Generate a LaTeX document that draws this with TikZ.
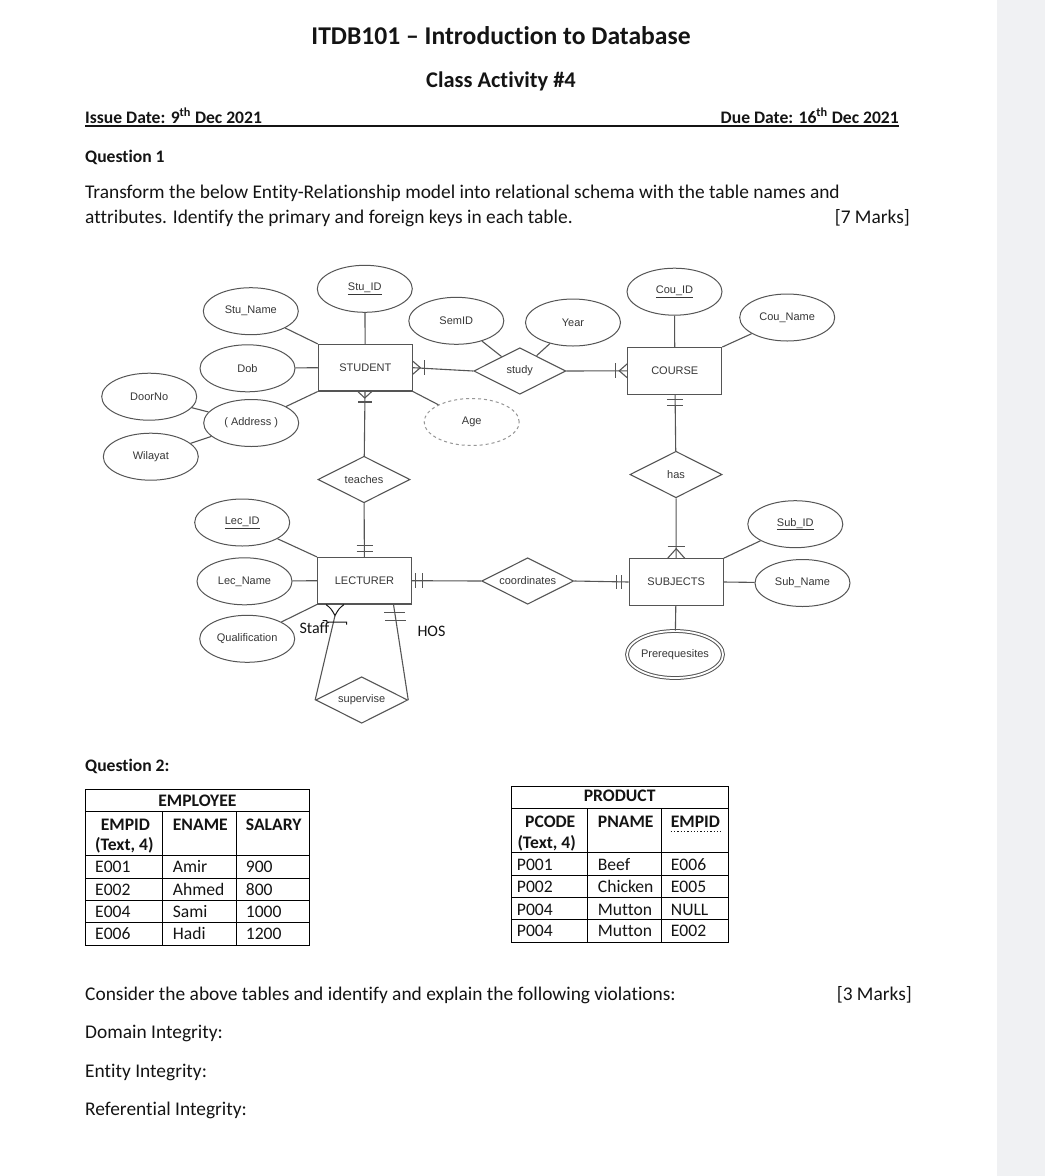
\documentclass[tikz,border=0pt]{standalone}
\usepackage{fontspec}
\setmainfont{Carlito}[Ligatures={TeX,NoCommon}]
\newfontfamily\diagfont{Liberation Sans}
\usetikzlibrary{shapes.geometric, calc, positioning}

\definecolor{erline}{RGB}{85, 85, 85}
\definecolor{ertext}{RGB}{55, 55, 55}
\definecolor{agegray}{RGB}{150, 150, 150}
\definecolor{sidegray}{RGB}{240, 241, 243}
\definecolor{ink}{RGB}{20, 20, 20}

\newcommand{\erfont}{\diagfont\fontsize{11}{13}\selectfont}
\newcommand{\bodyfont}{\fontsize{17.6}{21}\selectfont}
\newcommand{\parafont}{\fontsize{19.4}{23}\selectfont}

\tikzset{
    entity/.style={
        rectangle, draw=erline, line width=1.1pt,
        minimum width=94, minimum height=46.5, inner sep=0pt,
        font=\erfont, text=ertext
    },
    attr/.style={
        ellipse, draw=erline, line width=1pt,
        minimum width=95, minimum height=47, inner sep=0pt,
        font=\erfont, text=ertext
    },
    rel/.style={
        diamond, aspect=2, draw=erline, line width=1.1pt,
        minimum width=92, minimum height=46.5, inner sep=0pt,
        font=\erfont, text=ertext
    },
    conn/.style={draw=erline, line width=1.1pt},
    staffmark/.style={draw=ink, line width=1pt},
    txt/.style={anchor=base west, inner sep=0pt, font=\bodyfont, text=ink},
    boldtxt/.style={txt, font=\bodyfont\bfseries},
    paratxt/.style={txt, font=\parafont},
    tbl/.style={draw=black, line width=0.9pt}
}

\begin{document}
\begin{tikzpicture}[x=1pt, y=-1pt]
    \fill[white] (0,0) rectangle (1045,1176);
    \fill[sidegray] (997,0) rectangle (1045,1176);
    \useasboundingbox (0,0) rectangle (1045,1176);

    % heading
    \node[inner sep=0pt, anchor=base, text=ink, font=\fontsize{25.6}{30}\selectfont\bfseries] (title) at (501,44) {ITDB101 – Introduction to Database};
    \node[inner sep=0pt, anchor=base, text=ink, font=\fontsize{22.4}{26}\selectfont\bfseries] (activity) at (501,87) {Class Activity \#4};
    \node[boldtxt] (issue) at (85,123) {Issue Date: 9\textsuperscript{th} Dec 2021};
    \node[boldtxt, anchor=base east] (due) at (899,123) {Due Date: 16\textsuperscript{th} Dec 2021};
    \draw[ink, line width=2.2pt] ($(issue.base west)+(0,3)$) -- ($(due.base east)+(0,3)$);

    \node[boldtxt] (q1) at (85,162) {Question 1};
    \node[paratxt] (task1) at (85,198) {Transform the below Entity-Relationship model into relational schema with the table names and};
    \node[paratxt] (task2) at (85,223) {attributes. Identify the primary and foreign keys in each table.};
    \node[paratxt, anchor=base east] (marks1) at (910,223) {[7 Marks]};

    % ER diagram: entities, relationships, attributes
    \node[entity] (student) at (365.3,367.7) {STUDENT};
    \node[entity] (course) at (674.8,370.8) {COURSE};
    \node[entity] (lecturer) at (364.5,580.7) {LECTURER};
    \node[entity] (subjects) at (676.2,582) {SUBJECTS};

    \node[rel] (study) at (519.8,371) {study};
    \node[rel] (has) at (676,474.5) {has};
    \node[rel] (teaches) at (364,479.5) {teaches};
    \node[rel] (coord) at (527.7,581) {coordinates};
    \node[rel] (supervise) at (361.7,700) {supervise};

    \node[attr] (stuid) at (364.8,288.8) {\underline{Stu\_ID}};
    \node[attr] (stuname) at (250.8,311.2) {Stu\_Name};
    \node[attr] (dob) at (247.5,368.3) {Dob};
    \node[attr] (doorno) at (149.2,396.7) {DoorNo};
    \node[attr] (address) at (251.2,423) {( Address )};
    \node[attr] (wilayat) at (150.8,456.7) {Wilayat};
    \node[attr] (semid) at (456.3,320.8) {SemID};
    \node[attr] (year) at (573,322.5) {Year};
    \node[attr, draw=agegray, dashed] (age) at (471.7,422) {Age};
    \node[attr] (couid) at (674.5,291.7) {\underline{Cou\_ID}};
    \node[attr] (couname) at (787.2,317.5) {Cou\_Name};
    \node[attr] (lecid) at (242.2,522.5) {\underline{Lec\_ID}};
    \node[attr] (lecname) at (244.5,581.3) {Lec\_Name};
    \node[attr] (qualif) at (247.2,638.8) {Qualification};
    \node[attr] (subid) at (795.3,524.2) {\underline{Sub\_ID}};
    \node[attr] (subname) at (802.5,583) {Sub\_Name};
    \node[attr, double, double distance=1.8pt] (prereq) at (675,654.5) {Prerequesites};

    % attribute links
    \draw[conn] (stuid) -- (student);
    \draw[conn] (stuname) -- (student.north west);
    \draw[conn] (dob) -- (student.west);
    \draw[conn] (address) -- (student.south west);
    \draw[conn] (doorno) -- (address);
    \draw[conn] (wilayat) -- (address);
    \draw[conn] (age) -- (student.south east);
    \draw[conn] (semid) -- (study);
    \draw[conn] (year) -- (study);
    \draw[conn] (couid) -- (course);
    \draw[conn] (couname) -- (course.north east);
    \draw[conn] (lecid) -- (lecturer.north west);
    \draw[conn] (lecname) -- (lecturer.west);
    \draw[conn] (qualif) -- (lecturer.south west);
    \draw[conn] (subid) -- (subjects.north east);
    \draw[conn] (subname) -- (subjects.east);
    \draw[conn] (subjects) -- (prereq);

    % relationship links
    \draw[conn] (student.east) -- (study.west);
    \draw[conn] (study.east) -- (course.west);
    \draw[conn] (course) -- (has);
    \draw[conn] (has) -- (subjects);
    \draw[conn] (student) -- (teaches);
    \draw[conn] (teaches) -- (lecturer);
    \draw[conn] (lecturer.east) -- (coord.west);
    \draw[conn] (coord.east) -- (subjects.west);
    \coordinate (staffend) at ($(lecturer.south)+(-29.5,11)$);
    \coordinate (hosend) at ($(lecturer.south)+(29,0)$);
    \draw[conn] (staffend) -- (supervise.west);
    \draw[conn] (hosend) -- (supervise.east);

    % cardinality marks
    \draw[conn] ($(student.east)+(0,-6.5)$) -- ($(student.east)+(7.5,0)$) -- ($(student.east)+(0,6.5)$);
    \draw[conn] ($(student.east)+(11.5,-7.5)$) -- ($(student.east)+(11.5,7.5)$);
    \draw[conn] ($(student.south)+(-7.5,0)$) -- ($(student.south)+(-0.5,6.5)$) -- ($(student.south)+(6.5,0)$);
    \draw[conn] ($(student.south)+(-7,10.5)$) -- ($(student.south)+(6.5,10.5)$);
    \draw[conn] ($(course.west)+(0,-7)$) -- ($(course.west)+(-8,0)$) -- ($(course.west)+(0,7)$);
    \draw[conn] ($(course.west)+(-11.5,-7.5)$) -- ($(course.west)+(-11.5,7.5)$);
    \draw[conn] ($(course.south)+(-8,5)$) -- ($(course.south)+(8,5)$);
    \draw[conn] ($(course.south)+(-8,11)$) -- ($(course.south)+(8,11)$);
    \draw[conn] ($(subjects.north)+(-8.5,0)$) -- ($(subjects.north)+(0,-9.5)$) -- ($(subjects.north)+(8.5,0)$);
    \draw[conn] ($(subjects.north)+(-8.5,-11.5)$) -- ($(subjects.north)+(8.5,-11.5)$);
    \draw[conn] ($(subjects.west)+(-12.3,-7)$) -- ($(subjects.west)+(-12.3,7)$);
    \draw[conn] ($(subjects.west)+(-7.3,-7)$) -- ($(subjects.west)+(-7.3,7)$);
    \draw[conn] ($(lecturer.north)+(-8,-11.5)$) -- ($(lecturer.north)+(8,-11.5)$);
    \draw[conn] ($(lecturer.north)+(-8,-5.5)$) -- ($(lecturer.north)+(8,-5.5)$);
    \draw[conn] ($(lecturer.east)+(3.5,-7.5)$) -- ($(lecturer.east)+(3.5,7.5)$);
    \draw[conn] ($(lecturer.east)+(10.5,-7.5)$) -- ($(lecturer.east)+(10.5,7.5)$);
    \draw[conn] ($(hosend)!0.088!(supervise.east)+(-10.5,0)$) -- ($(hosend)!0.088!(supervise.east)+(10.5,0)$);
    \draw[conn] ($(hosend)!0.167!(supervise.east)+(-10.5,0)$) -- ($(hosend)!0.167!(supervise.east)+(10.5,0)$);
    % hand drawn mark on the staff side
    \draw[staffmark] ($(staffend)+(-9,-11)$) .. controls ($(staffend)+(-4,-7)$) .. (staffend) .. controls ($(staffend)+(4,-7)$) .. ($(staffend)+(9,-11)$);
    \draw[staffmark] ($(staffend)+(-12.3,5)$) -- ($(staffend)+(-8.3,5)$) -- ($(staffend)+(-8,6.7)$) -- ($(staffend)+(10,6.7)$) -- ($(staffend)+(11.7,6.7)$) -- ($(staffend)+(11.7,9)$);
    \node[inner sep=0pt, anchor=base west, text=ink, font=\fontsize{16}{19}\selectfont] (staff) at (299.3,633.3) {Staff};
    \node[inner sep=0pt, anchor=base west, text=ink, font=\fontsize{16}{19}\selectfont] (hos) at (417.3,636) {HOS};

    % Question 2
    \node[boldtxt] (q2) at (85,771) {Question 2:};

    % EMPLOYEE table
    \draw[tbl] (85.7,789) rectangle (309,945);
    \draw[tbl] (85.7,811) -- (309,811);
    \draw[tbl] (85.7,855.7) -- (309,855.7);
    \draw[tbl] (85.7,878) -- (309,878);
    \draw[tbl] (85.7,900.7) -- (309,900.7);
    \draw[tbl] (85.7,922.7) -- (309,922.7);
    \draw[tbl] (162.3,811) -- (162.3,945);
    \draw[tbl] (236.7,811) -- (236.7,945);
    \node[boldtxt, anchor=base] (emptitle) at (197.4,806.7) {EMPLOYEE};
    \node[boldtxt] (empid) at (100.7,830) {EMPID};
    \node[boldtxt] (emptype) at (95,850.7) {(Text, 4)};
    \node[boldtxt] (ename) at (172.7,830) {ENAME};
    \node[boldtxt] (salary) at (245.7,830) {SALARY};
    \node[txt] (e1id) at (95,872.7) {E001};
    \node[txt] (e1nm) at (172.7,872.7) {Amir};
    \node[txt] (e1sal) at (245.7,872.7) {900};
    \node[txt] (e2id) at (95,895) {E002};
    \node[txt] (e2nm) at (172.7,895) {Ahmed};
    \node[txt] (e2sal) at (245.7,895) {800};
    \node[txt] (e3id) at (95,917.3) {E004};
    \node[txt] (e3nm) at (172.7,917.3) {Sami};
    \node[txt] (e3sal) at (245.7,917.3) {1000};
    \node[txt] (e4id) at (95,939.3) {E006};
    \node[txt] (e4nm) at (172.7,939.3) {Hadi};
    \node[txt] (e4sal) at (245.7,939.3) {1200};

    % PRODUCT table
    \draw[tbl] (511,786) rectangle (728.3,942.3);
    \draw[tbl] (511,808.3) -- (728.3,808.3);
    \draw[tbl] (511,852.3) -- (728.3,852.3);
    \draw[tbl] (511,875) -- (728.3,875);
    \draw[tbl] (511,897.3) -- (728.3,897.3);
    \draw[tbl] (511,919.3) -- (728.3,919.3);
    \draw[tbl] (587.7,808.3) -- (587.7,942.3);
    \draw[tbl] (661.7,808.3) -- (661.7,942.3);
    \node[boldtxt, anchor=base] (prodtitle) at (619.7,801.7) {PRODUCT};
    \node[boldtxt] (pcode) at (525,827.7) {PCODE};
    \node[boldtxt] (ptype) at (517.3,848.3) {(Text, 4)};
    \node[boldtxt] (pname) at (597.7,827.7) {PNAME};
    \node[boldtxt] (pempid) at (670.7,827.7) {EMPID};
    \draw[ink, dotted, line width=1.3pt] ($(pempid.base west)+(0,3.5)$) -- ($(pempid.base east)+(0,3.5)$);
    \node[txt] (p1code) at (516.7,870.7) {P001};
    \node[txt] (p1nm) at (597.7,870.7) {Beef};
    \node[txt] (p1emp) at (670.7,870.7) {E006};
    \node[txt] (p2code) at (516.7,892.7) {P002};
    \node[txt] (p2nm) at (597.7,892.7) {Chicken};
    \node[txt] (p2emp) at (670.7,892.7) {E005};
    \node[txt] (p3code) at (516.7,915) {P004};
    \node[txt] (p3nm) at (597.7,915) {Mutton};
    \node[txt] (p3emp) at (670.7,915) {NULL};
    \node[txt] (p4code) at (516.7,936.7) {P004};
    \node[txt] (p4nm) at (597.7,936.7) {Mutton};
    \node[txt] (p4emp) at (670.7,936.7) {E002};

    % violations
    \node[paratxt] (consider) at (85,1000) {Consider the above tables and identify and explain the following violations:};
    \node[paratxt, anchor=base east] (marks2) at (912,1000) {[3 Marks]};
    \node[paratxt] (domain) at (85,1038) {Domain Integrity:};
    \node[paratxt] (entityint) at (85,1077) {Entity Integrity:};
    \node[paratxt] (refint) at (85,1115) {Referential Integrity:};
\end{tikzpicture}
\end{document}
